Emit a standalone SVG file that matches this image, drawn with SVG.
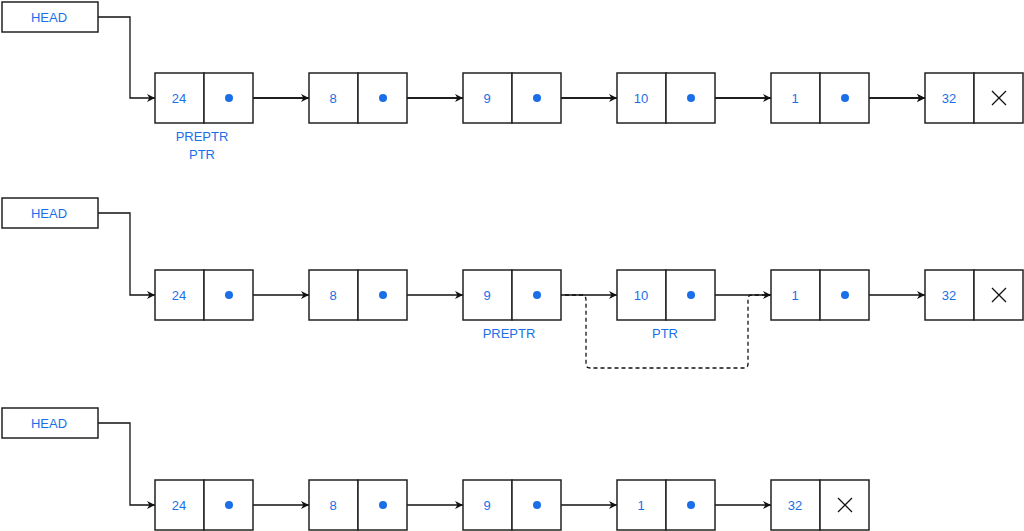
<svg xmlns="http://www.w3.org/2000/svg" width="1024" height="531" viewBox="0 0 1024 531">
<style>
.b{fill:#fff;stroke:#222;stroke-width:1.5}
.t{font-family:"Liberation Sans",Arial,sans-serif;font-size:13px;fill:#1a6fe8;text-anchor:middle}
.h{font-family:"Liberation Sans",Arial,sans-serif;font-size:13px;fill:#1a6fe8;text-anchor:middle}
.c{fill:none;stroke:#111;stroke-width:1.3}
.d{fill:#1a6fe8}
</style>
<defs><marker id="a" viewBox="0 0 10 10" refX="10" refY="5" markerWidth="8" markerHeight="8" orient="auto" markerUnits="userSpaceOnUse"><path d="M0,0L10,5L0,10L3,5z" fill="#111"/></marker></defs>
<rect width="1024" height="531" fill="#fff"/>
<g id="connectors">
<path class="c" d="M98,17H130V98H155" marker-end="url(#a)"/>
<path class="c" d="M98,213H130V295H155" marker-end="url(#a)"/>
<path class="c" d="M98,423H130V505H155" marker-end="url(#a)"/>
<path class="c" d="M229,98H309M383,98H463M537,98H617M691,98H771M845,98H925" marker-end="url(#a)"/>
<path class="c" d="M229,98H309" marker-end="url(#a)"/><path class="c" d="M383,98H463" marker-end="url(#a)"/><path class="c" d="M537,98H617" marker-end="url(#a)"/><path class="c" d="M691,98H771" marker-end="url(#a)"/><path class="c" d="M845,98H925" marker-end="url(#a)"/>
<path class="c" d="M229,295H309" marker-end="url(#a)"/><path class="c" d="M383,295H463" marker-end="url(#a)"/><path class="c" d="M537,295H617" marker-end="url(#a)"/><path class="c" d="M691,295H771" marker-end="url(#a)"/><path class="c" d="M845,295H925" marker-end="url(#a)"/>
<path class="c" d="M537,295H583Q586,296 586,300V364Q586,368 590,368H744Q748,368 748,364V299Q748,295 752,295H771" stroke-dasharray="4,3"/>
<path class="c" d="M229,505H309" marker-end="url(#a)"/><path class="c" d="M383,505H463" marker-end="url(#a)"/><path class="c" d="M537,505H617" marker-end="url(#a)"/><path class="c" d="M691,505H771" marker-end="url(#a)"/>
</g>
<g id="head1"><rect class="b" x="2" y="2" width="96" height="30"/><text class="h" x="49" y="22">HEAD</text></g>
<g id="head2"><rect class="b" x="2" y="198" width="96" height="30"/><text class="h" x="49" y="218">HEAD</text></g>
<g id="head3"><rect class="b" x="2" y="408" width="96" height="30"/><text class="h" x="49" y="428">HEAD</text></g>
<g id="r1">
<g id="n1a"><rect class="b" x="155" y="73" width="49" height="50"/><rect class="b" x="204" y="73" width="49" height="50"/><text class="t" x="179" y="103">24</text><circle class="d" cx="229" cy="98" r="4"/></g>
<g id="n1b"><rect class="b" x="309" y="73" width="49" height="50"/><rect class="b" x="358" y="73" width="49" height="50"/><text class="t" x="333" y="103">8</text><circle class="d" cx="383" cy="98" r="4"/></g>
<g id="n1c"><rect class="b" x="463" y="73" width="49" height="50"/><rect class="b" x="512" y="73" width="49" height="50"/><text class="t" x="487" y="103">9</text><circle class="d" cx="537" cy="98" r="4"/></g>
<g id="n1d"><rect class="b" x="617" y="73" width="49" height="50"/><rect class="b" x="666" y="73" width="49" height="50"/><text class="t" x="641" y="103">10</text><circle class="d" cx="691" cy="98" r="4"/></g>
<g id="n1e"><rect class="b" x="771" y="73" width="49" height="50"/><rect class="b" x="820" y="73" width="49" height="50"/><text class="t" x="795" y="103">1</text><circle class="d" cx="845" cy="98" r="4"/></g>
<g id="n1f"><rect class="b" x="925" y="73" width="49" height="50"/><rect class="b" x="974" y="73" width="49" height="50"/><text class="t" x="949" y="103">32</text><path class="c" d="M992,91l14,14M1006,91l-14,14" stroke-width="1.8"/></g>
<text class="t" x="202" y="141">PREPTR</text><text class="t" x="202" y="159">PTR</text>
</g>
<g id="r2">
<g id="n2a"><rect class="b" x="155" y="270" width="49" height="50"/><rect class="b" x="204" y="270" width="49" height="50"/><text class="t" x="179" y="300">24</text><circle class="d" cx="229" cy="295" r="4"/></g>
<g id="n2b"><rect class="b" x="309" y="270" width="49" height="50"/><rect class="b" x="358" y="270" width="49" height="50"/><text class="t" x="333" y="300">8</text><circle class="d" cx="383" cy="295" r="4"/></g>
<g id="n2c"><rect class="b" x="463" y="270" width="49" height="50"/><rect class="b" x="512" y="270" width="49" height="50"/><text class="t" x="487" y="300">9</text><circle class="d" cx="537" cy="295" r="4"/></g>
<g id="n2d"><rect class="b" x="617" y="270" width="49" height="50"/><rect class="b" x="666" y="270" width="49" height="50"/><text class="t" x="641" y="300">10</text><circle class="d" cx="691" cy="295" r="4"/></g>
<g id="n2e"><rect class="b" x="771" y="270" width="49" height="50"/><rect class="b" x="820" y="270" width="49" height="50"/><text class="t" x="795" y="300">1</text><circle class="d" cx="845" cy="295" r="4"/></g>
<g id="n2f"><rect class="b" x="925" y="270" width="49" height="50"/><rect class="b" x="974" y="270" width="49" height="50"/><text class="t" x="949" y="300">32</text><path class="c" d="M992,288l14,14M1006,288l-14,14" stroke-width="1.8"/></g>
<text class="t" x="509" y="338">PREPTR</text><text class="t" x="665" y="338">PTR</text>
</g>
<g id="r3">
<g id="n3a"><rect class="b" x="155" y="480" width="49" height="50"/><rect class="b" x="204" y="480" width="49" height="50"/><text class="t" x="179" y="510">24</text><circle class="d" cx="229" cy="505" r="4"/></g>
<g id="n3b"><rect class="b" x="309" y="480" width="49" height="50"/><rect class="b" x="358" y="480" width="49" height="50"/><text class="t" x="333" y="510">8</text><circle class="d" cx="383" cy="505" r="4"/></g>
<g id="n3c"><rect class="b" x="463" y="480" width="49" height="50"/><rect class="b" x="512" y="480" width="49" height="50"/><text class="t" x="487" y="510">9</text><circle class="d" cx="537" cy="505" r="4"/></g>
<g id="n3d"><rect class="b" x="617" y="480" width="49" height="50"/><rect class="b" x="666" y="480" width="49" height="50"/><text class="t" x="641" y="510">1</text><circle class="d" cx="691" cy="505" r="4"/></g>
<g id="n3e"><rect class="b" x="771" y="480" width="49" height="50"/><rect class="b" x="820" y="480" width="49" height="50"/><text class="t" x="795" y="510">32</text><path class="c" d="M838,498l14,14M852,498l-14,14" stroke-width="1.8"/></g>
</g>
</svg>
